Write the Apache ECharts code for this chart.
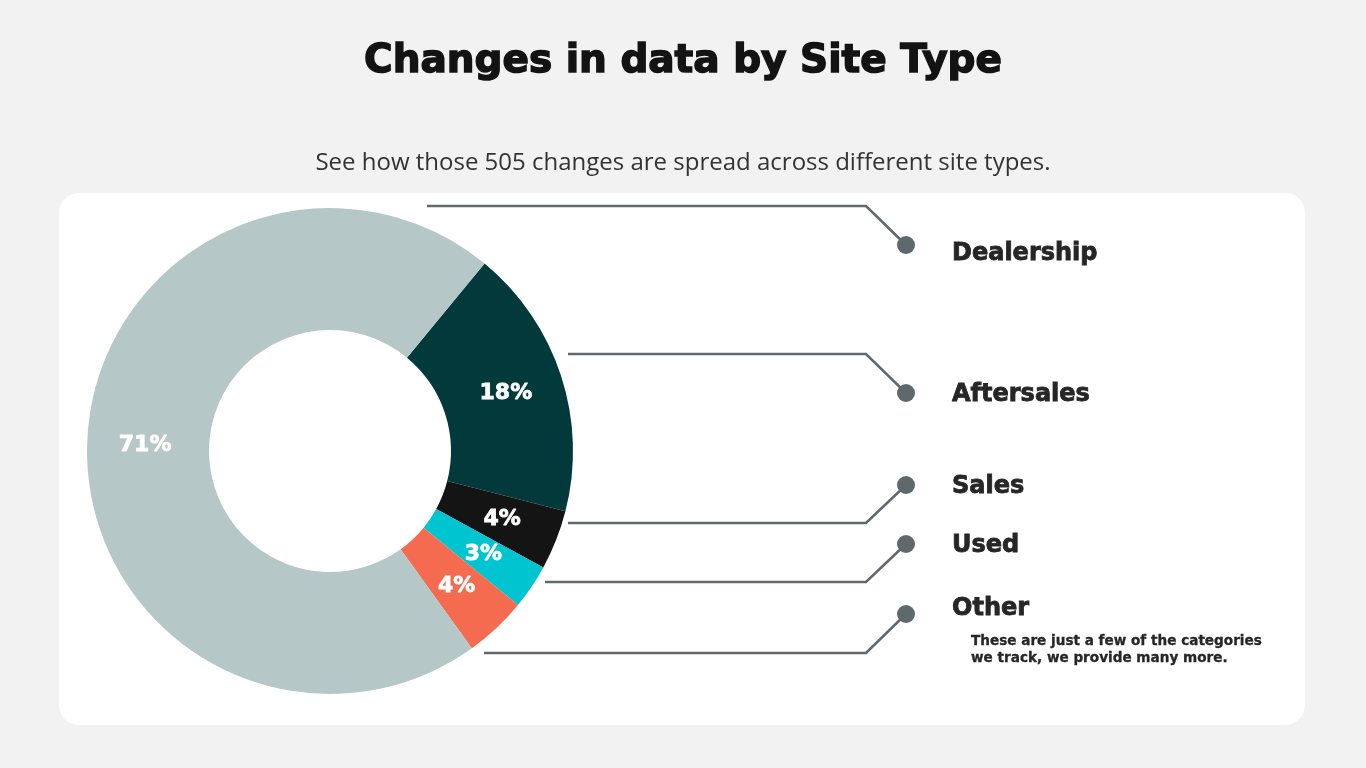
<!DOCTYPE html>
<html>
<head>
<meta charset="UTF-8">
<script src="https://cdn.jsdelivr.net/npm/echarts@6/dist/echarts.min.js"></script>
<title>Changes in data by Site Type</title>
<style>
  html, body { margin: 0; padding: 0; background: #f2f2f2; }
  #main { width: 1366px; height: 768px; }
</style>
</head>
<body>
<div id="main"></div>
<script type="text/javascript">
  // data: changes per site type (505 in total), ordered clockwise from the teal slice
  var siteTypes = ['Aftersales', 'Sales', 'Used', 'Other', 'Dealership'];
  var changes = [91, 20, 15, 21, 358];
  var sliceColors = ['#023a3c', '#141414', '#00c4cf', '#f46b4f', '#b5c7c6'];

  // right-hand callouts, top to bottom
  var calloutNames = ['Dealership', 'Aftersales', 'Sales', 'Used', 'Other'];
  var calloutNote = 'These are just a few of the categories\nwe track, we provide many more.';

  var heavy = '"DejaVu Sans", Verdana, sans-serif';

  // leader line layout: [startX, lineY, dotY, labelY]
  var leaders = [
    [427, 206, 245, 253],
    [568, 354, 393, 394],
    [568, 523, 485, 486],
    [545, 582, 544, 545],
    [484, 653, 614, 608]
  ];

  var graphics = [{
    type: 'rect', z: -1,
    shape: { x: 59, y: 193, width: 1246, height: 532, r: 20 },
    style: { fill: '#ffffff' }
  }];
  leaders.forEach(function (l, i) {
    graphics.push({
      type: 'polyline',
      shape: { points: [[l[0], l[1]], [866, l[1]], [906, l[2]]] },
      style: { stroke: '#5f696d', lineWidth: 2.5, fill: null }
    });
    graphics.push({
      type: 'circle',
      shape: { cx: 906, cy: l[2], r: 9 },
      style: { fill: '#5f696d' }
    });
    graphics.push({
      type: 'text', x: 952, y: l[3] + 1,
      style: {
        text: calloutNames[i], fill: '#262626',
        stroke: '#262626', lineWidth: 0.8,
        font: 'bold 24px ' + heavy, textVerticalAlign: 'middle'
      }
    });
  });
  graphics.push({
    type: 'text', x: 971, y: 633,
    style: {
      text: calloutNote, fill: '#262626', lineHeight: 17,
      stroke: '#262626', lineWidth: 0.3,
      font: 'bold 13.6px ' + heavy
    }
  });

  var myChart = echarts.init(document.getElementById('main'));
  var option = {
    backgroundColor: '#f2f2f2',
    title: [{
      text: 'Changes in data by Site Type',
      left: 'center',
      top: 37,
      textStyle: {
        fontFamily: heavy, fontWeight: 'bold', fontSize: 39, color: '#131313',
        textBorderColor: '#131313', textBorderWidth: 1.5
      }
    }, {
      text: 'See how those 505 changes are spread across different site types.',
      left: 'center',
      top: 146,
      textStyle: { fontFamily: '"Open Sans", sans-serif', fontWeight: 'normal', fontSize: 24, color: '#333333' }
    }],
    graphic: graphics,
    series: [{
      type: 'pie',
      center: [330, 451],
      radius: [121, 243],
      startAngle: 50.5,
      clockwise: true,
      silent: true,
      label: {
        position: 'inside',
        color: '#ffffff',
        textBorderColor: '#ffffff',
        textBorderWidth: 0.8,
        fontFamily: heavy,
        fontWeight: 'bold',
        fontSize: 22,
        formatter: function (p) { return Math.round(p.percent) + '%'; }
      },
      labelLine: { show: false },
      data: siteTypes.map(function (name, i) {
        return { name: name, value: changes[i], itemStyle: { color: sliceColors[i] } };
      })
    }]
  };
  myChart.setOption(option);
</script>
</body>
</html>
